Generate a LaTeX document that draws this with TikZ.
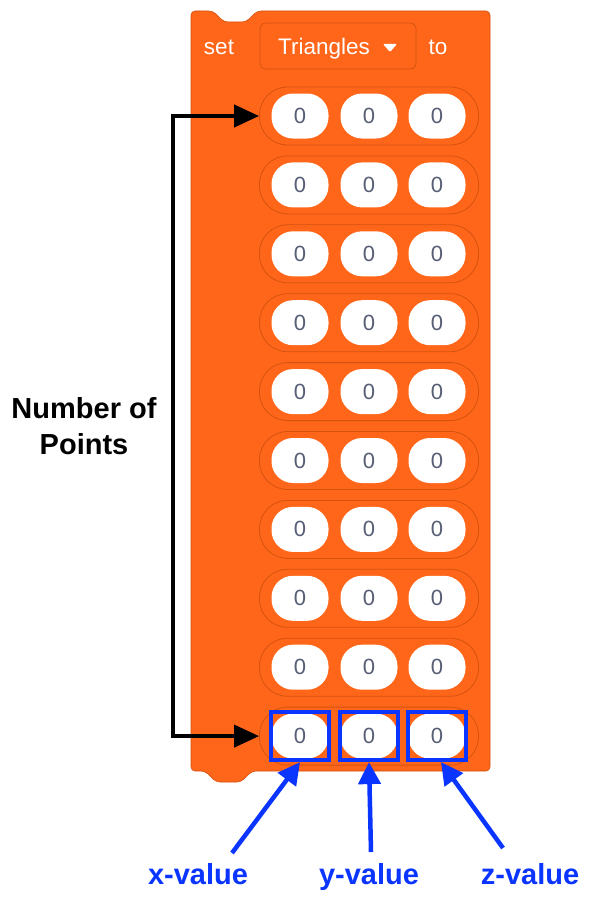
\documentclass[tikz,border=0pt]{standalone}
\usepackage{fontspec}
\setmainfont{Liberation Sans}
\usetikzlibrary{arrows.meta}
\definecolor{blk}{HTML}{FF661A}
\definecolor{blkedge}{HTML}{D4520F}
\definecolor{numgray}{HTML}{575E75}
\definecolor{vblue}{HTML}{0A34FF}
\tikzset{
  pill/.style={draw=blkedge, line width=0.8pt, fill=blk, rounded corners=28pt, minimum width=219pt, minimum height=58pt, inner sep=0pt},
  oval/.style={fill=white, rounded corners=21.5pt, minimum width=57pt, minimum height=45pt, inner sep=0pt, text=numgray, font=\fontsize{22}{26}\selectfont},
  bluebox/.style={draw=vblue, line width=4pt, minimum width=58pt, minimum height=48pt, inner sep=0pt},
  label/.style={font=\fontsize{29}{34}\selectfont\bfseries, inner sep=0pt},
  blackarrow/.style={line width=4pt, {Triangle[length=25pt,width=22pt]}-{Triangle[length=25pt,width=22pt]}},
  bluearrow/.style={draw=vblue, line width=4.5pt, -{Triangle[length=22pt,width=22pt]}},
  head/.style={text=white, font=\fontsize{22.5}{26}\selectfont, inner sep=0pt}
}
\begin{document}
\begin{tikzpicture}[x=1pt,y=-1pt]
\useasboundingbox (0,0) rectangle (593,899);
% block body
\filldraw[fill=blk, draw=blkedge, line width=0.6pt, rounded corners=4pt]
  (191,11) -- (213,11) -- (224,22) -- (246,22) -- (257,11) -- (490,11)
  -- (490,771) -- (252,771) -- (241,782) -- (216,782) -- (205,771)
  -- (191,771) -- cycle;
% header
\node[head, anchor=base] (set) at (219,55) {set};
\node[draw=blkedge, line width=0.8pt, fill=blk, rounded corners=5pt, minimum width=156pt, minimum height=46pt] (dd) at (338,46) {};
\node[head, anchor=base] (tri) at (324,55) {Triangles};
\fill[white, rounded corners=1pt] (383,44) -- (397,44) -- (390,52) -- cycle;
\node[head, anchor=base] (to) at (438,55) {to};
% rows
\foreach \i in {1,...,10} {
  \pgfmathsetmacro{\yy}{116+68.9*(\i-1)}
  \node[pill] (r\i) at (369,\yy) {};
  \node[oval] (o\i a) at (300,\yy) {0};
  \node[oval] (o\i b) at (369,\yy) {0};
  \node[oval] (o\i c) at (437,\yy) {0};
}
% blue boxes
\node[bluebox] (b1) at (o10a) {};
\node[bluebox] (b2) at (o10b) {};
\node[bluebox] (b3) at (o10c) {};
% bracket
\draw[blackarrow] (r1.west) -- ++(-86,0) coordinate (bt) -- (bt |- r10.west) -- (r10.west);
\node[label, align=center] (np) at (84,426) {Number of\\[2pt]Points};
% value labels
\node[label, text=vblue, anchor=base] (xl) at (198,884) {x-value};
\node[label, text=vblue, anchor=base] (yl) at (369,884) {y-value};
\node[label, text=vblue, anchor=base] (zl) at (530,884) {z-value};
\coordinate (xs) at (232,853);
\coordinate (ys) at (371,852);
\coordinate (zs) at (503,848);
\draw[bluearrow] (xs) -- (b1.south);
\draw[bluearrow] (ys) -- (b2.south);
\draw[bluearrow] (zs) -- ([xshift=4pt]b3.south);
\end{tikzpicture}
\end{document}
